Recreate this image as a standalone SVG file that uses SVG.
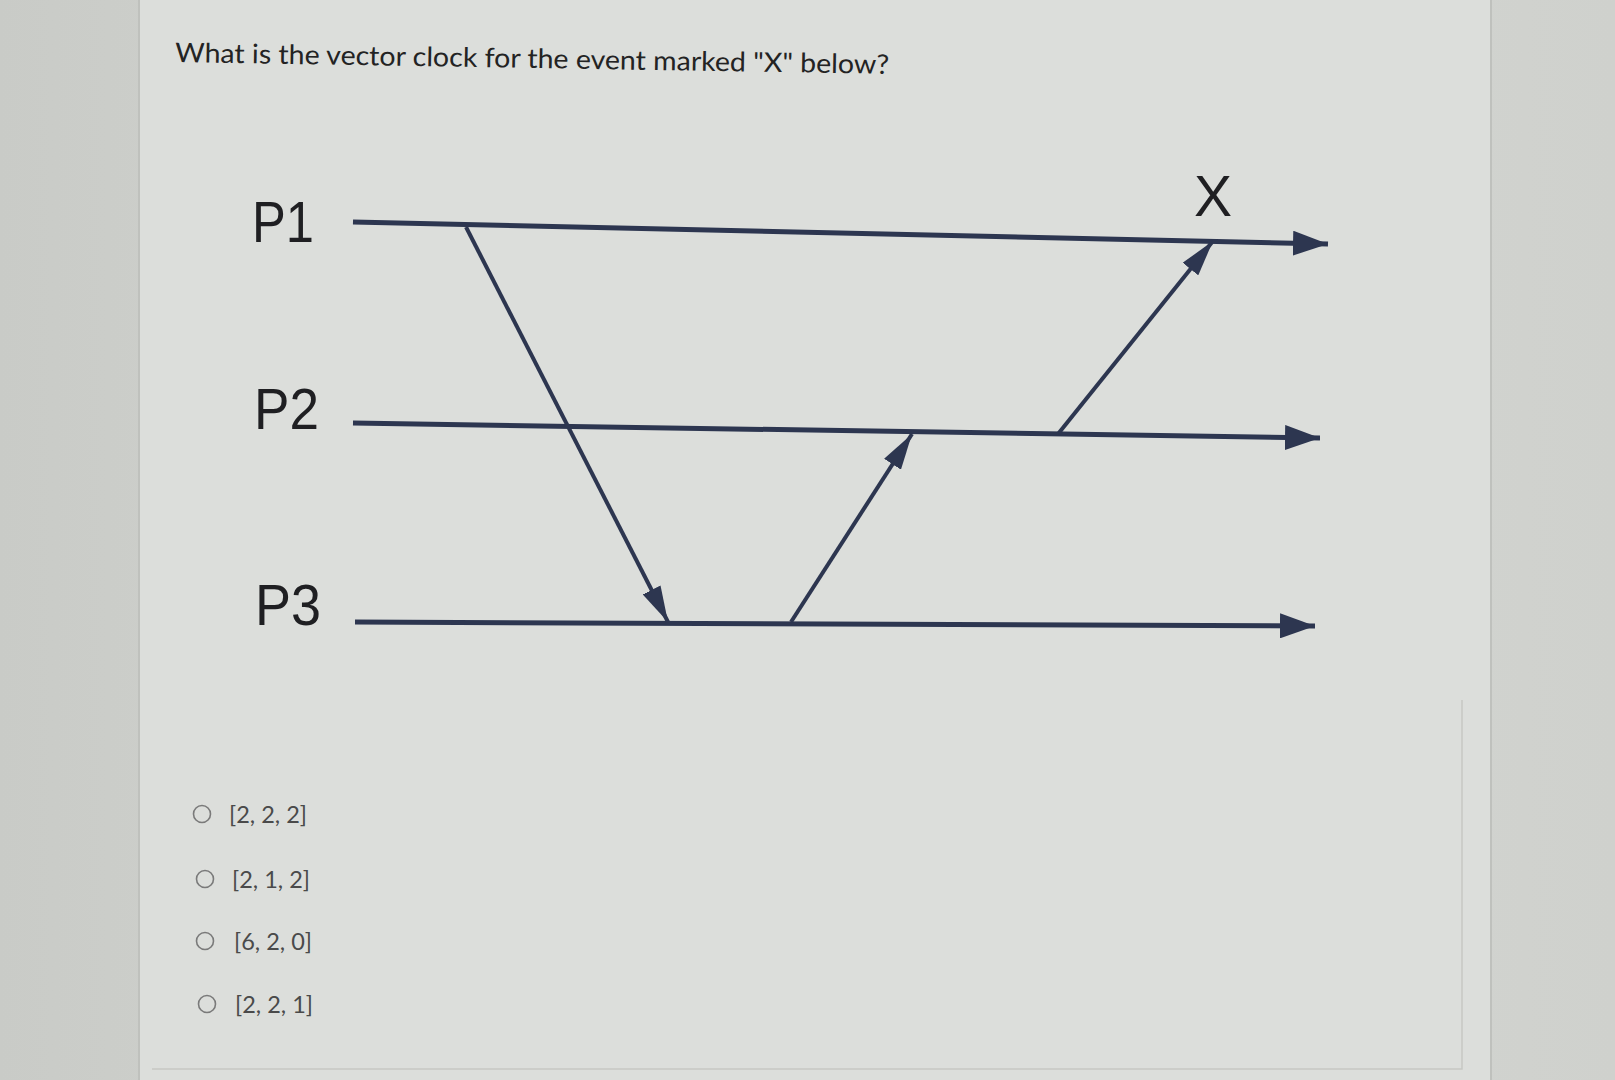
<svg xmlns="http://www.w3.org/2000/svg" width="1615" height="1080" viewBox="0 0 1615 1080">
<style>
.title{font-family:Lato,"Liberation Sans",sans-serif;font-size:27px;fill:#232323}
.plabel{font-family:"Liberation Sans",Arial,sans-serif;font-size:57px;fill:#1f1f22}
.opt{font-family:Lato,"Liberation Sans",sans-serif;font-size:24px;fill:#4a4a4a}
.radio{fill:none;stroke:#7a7a7a;stroke-width:1.6}
.line{stroke:#2d3650;stroke-width:5;fill:none}
.msg{stroke:#2d3650;stroke-width:4;fill:none}
</style>
<defs>
<marker id="ah" viewBox="0 0 14 10" refX="14" refY="5" markerWidth="7" markerHeight="5" orient="auto" markerUnits="strokeWidth">
<path d="M0,0 L14,5 L0,10 z" fill="#2d3650"/>
</marker>
<marker id="ahm" viewBox="0 0 18 10" refX="18" refY="5" markerWidth="9" markerHeight="5" orient="auto" markerUnits="strokeWidth">
<path d="M0,0 L18,5 L0,10 z" fill="#2d3650"/>
</marker>
<linearGradient id="bg" x1="0" y1="0" x2="1" y2="0">
<stop offset="0" stop-color="#c9cbc7"/>
<stop offset="0.5" stop-color="#d8dad6"/>
<stop offset="1" stop-color="#cfd1cd"/>
</linearGradient>
</defs>
<rect x="0" y="0" width="1615" height="1080" fill="url(#bg)"/>
<rect x="139" y="0" width="1352" height="1080" fill="#dcdedb"/>
<line x1="139" y1="0" x2="139" y2="1080" stroke="#bfc1bd" stroke-width="2"/>
<line x1="1491" y1="0" x2="1491" y2="1080" stroke="#bfc1bd" stroke-width="2"/>
<path d="M152,1069 L1462,1069 L1462,700" fill="none" stroke="#c6c8c4" stroke-width="1.5"/>

<g id="title">
<text class="title" x="175" y="62" transform="rotate(0.95 175 62)" textLength="714" lengthAdjust="spacingAndGlyphs">What is the vector clock for the event marked "X" below?</text>
</g>

<g id="node-P1"><text class="plabel" x="252" y="242" textLength="62" lengthAdjust="spacingAndGlyphs">P1</text></g>
<g id="node-P2"><text class="plabel" x="254" y="429" textLength="65" lengthAdjust="spacingAndGlyphs">P2</text></g>
<g id="node-P3"><text class="plabel" x="255" y="625" textLength="66" lengthAdjust="spacingAndGlyphs">P3</text></g>
<g id="node-X"><text class="plabel" x="1213" y="216" text-anchor="middle">X</text></g>

<g id="connectors">
<line class="line" x1="353" y1="222" x2="1328" y2="244" marker-end="url(#ah)"/>
<line class="line" x1="353" y1="423" x2="1320" y2="438" marker-end="url(#ah)"/>
<line class="line" x1="355" y1="622" x2="1315" y2="626" marker-end="url(#ah)"/>
<line class="msg" x1="466" y1="227" x2="668" y2="622" marker-end="url(#ahm)"/>
<line class="msg" x1="791" y1="622" x2="912" y2="434" marker-end="url(#ahm)"/>
<line class="msg" x1="1058" y1="434" x2="1213" y2="241" marker-end="url(#ahm)"/>
</g>

<g id="options">
<circle class="radio" cx="202" cy="814" r="8.5"/>
<text class="opt" x="229" y="823" textLength="78" lengthAdjust="spacingAndGlyphs">[2, 2, 2]</text>
<circle class="radio" cx="205" cy="879" r="8.5"/>
<text class="opt" x="232" y="888" textLength="78" lengthAdjust="spacingAndGlyphs">[2, 1, 2]</text>
<circle class="radio" cx="205" cy="941" r="8.5"/>
<text class="opt" x="234" y="950" textLength="78" lengthAdjust="spacingAndGlyphs">[6, 2, 0]</text>
<circle class="radio" cx="207" cy="1004" r="8.5"/>
<text class="opt" x="235" y="1013" textLength="78" lengthAdjust="spacingAndGlyphs">[2, 2, 1]</text>
</g>
</svg>
